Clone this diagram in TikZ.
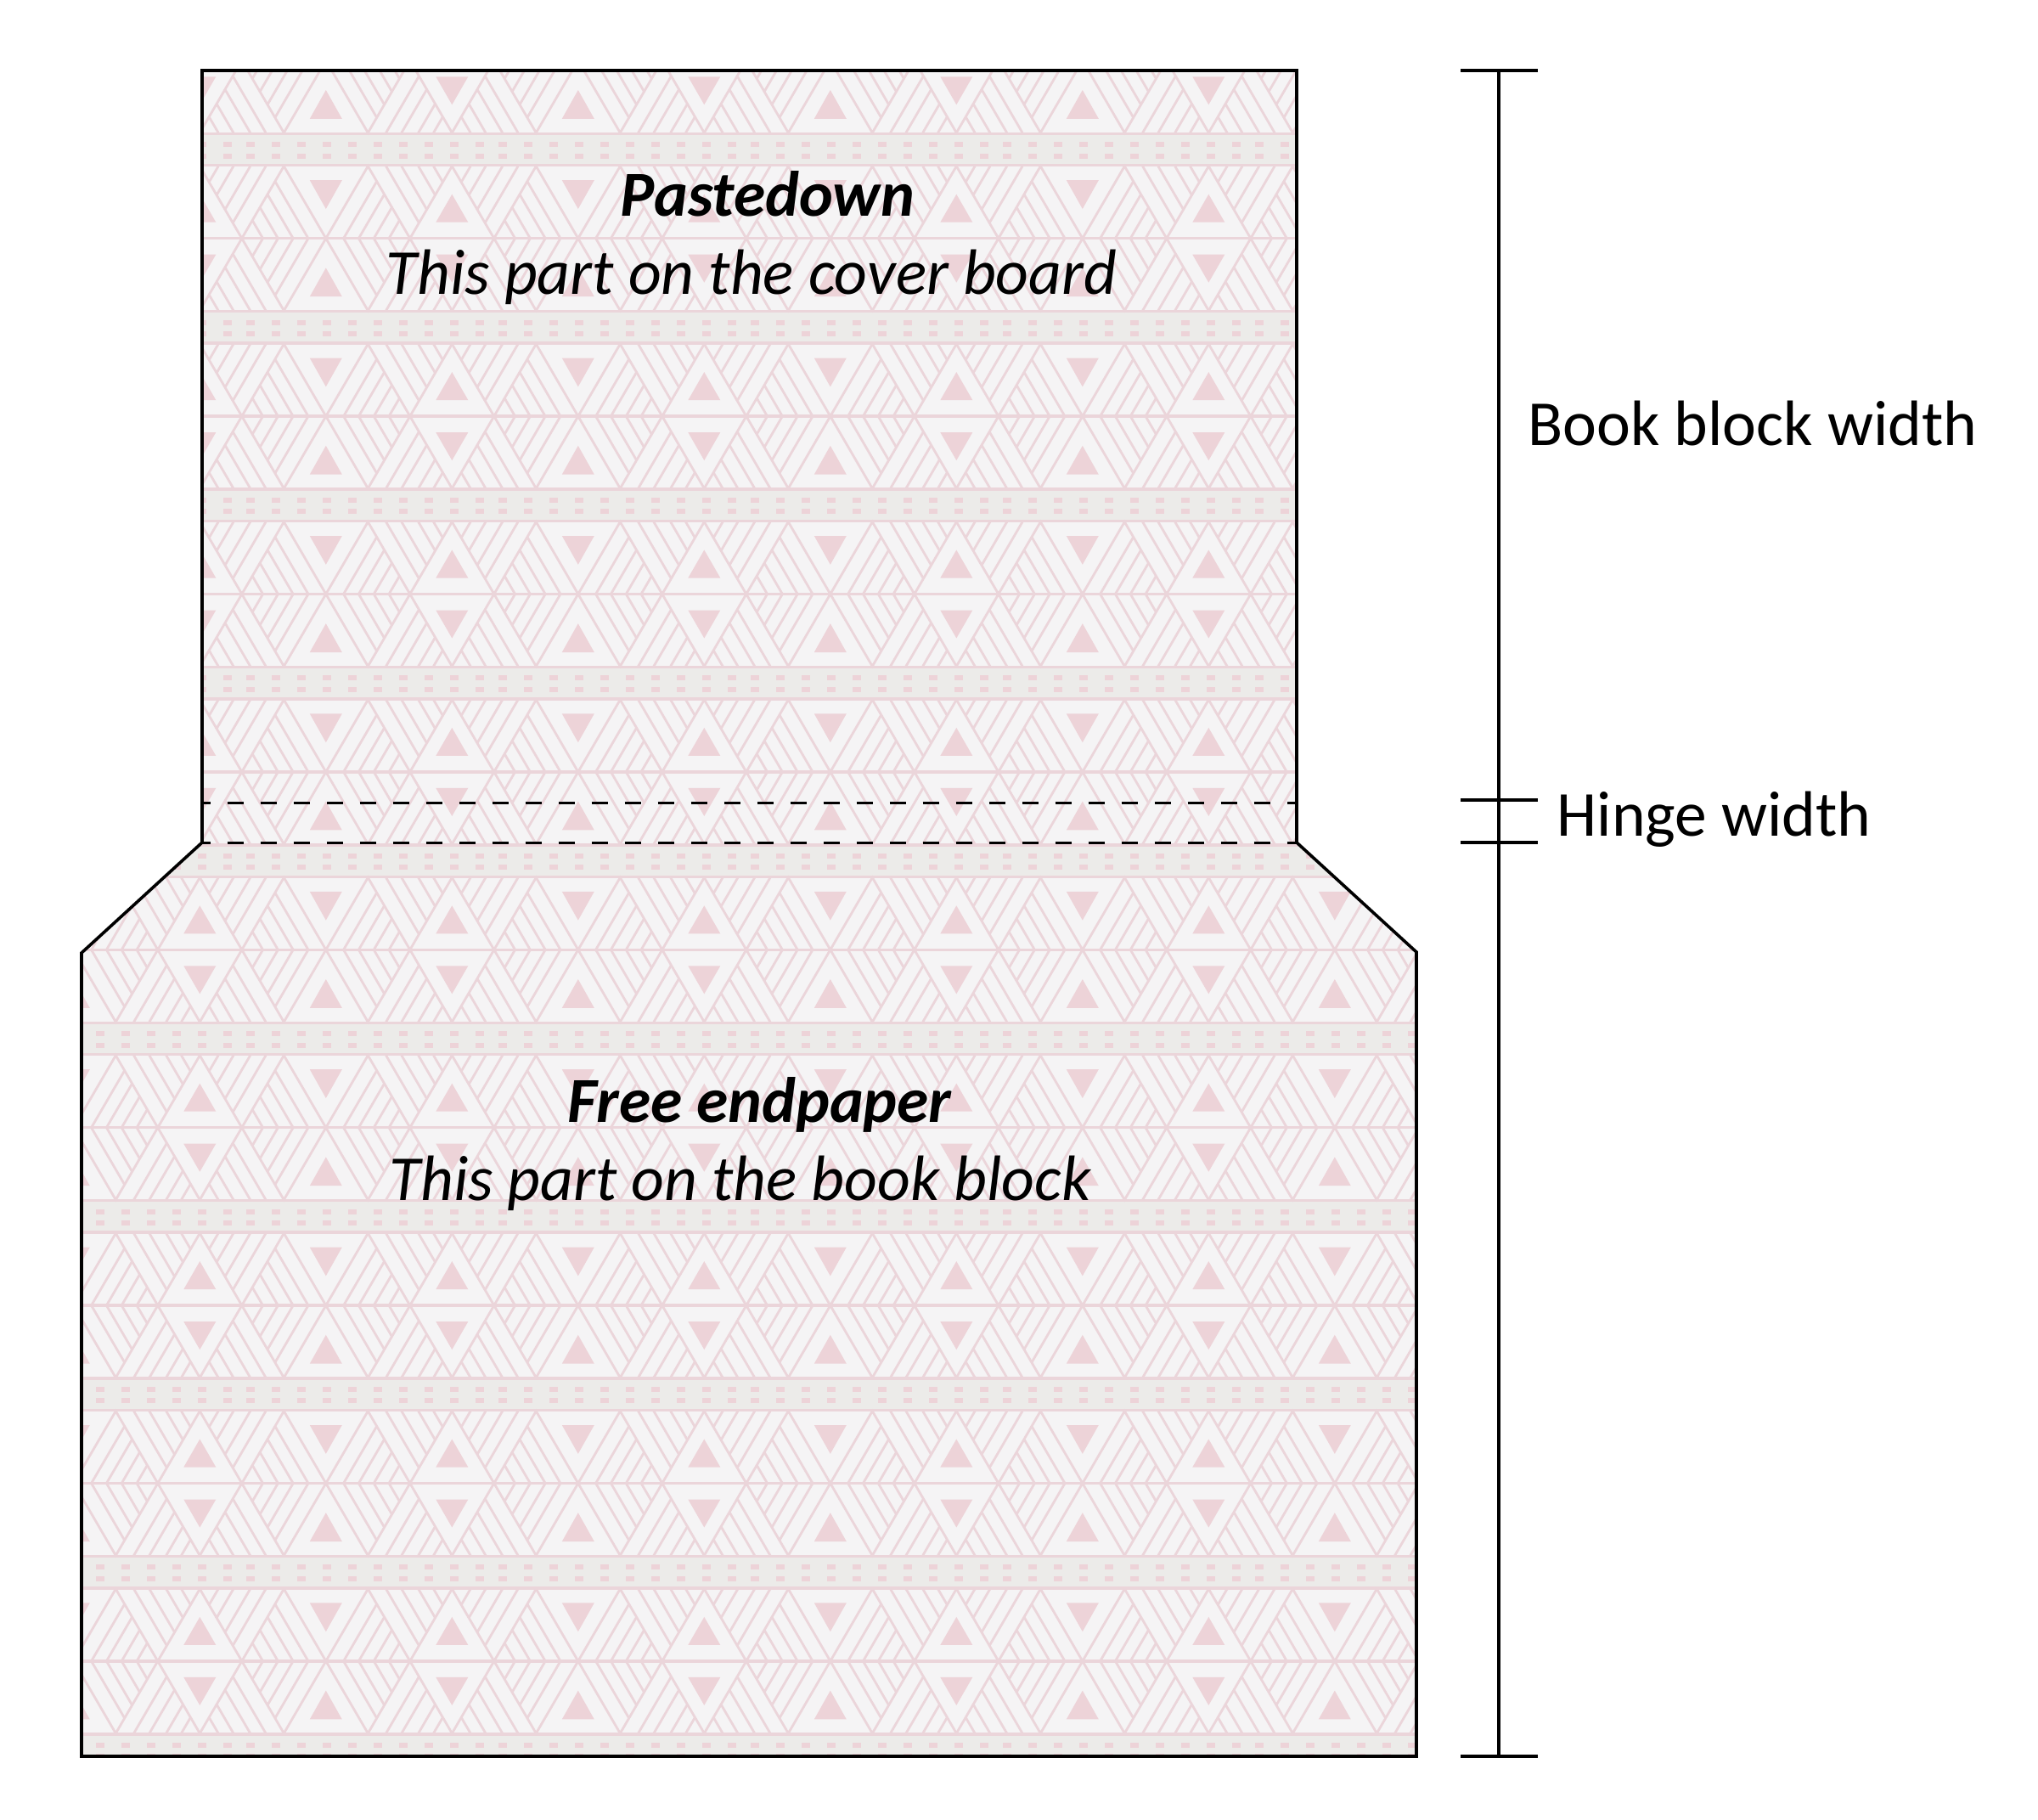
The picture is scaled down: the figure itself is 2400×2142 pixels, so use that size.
\documentclass[tikz,border=0pt]{standalone}
\usepackage{fontspec}
\setmainfont{Carlito}
\definecolor{tilebg}{HTML}{F5F4F5}
\definecolor{tilepink}{HTML}{EBD5DA}
\definecolor{trifill}{HTML}{EDD3D8}
\definecolor{bandgrey}{HTML}{ECEBE9}
\newcommand{\outlinepath}{(238,83) -- (1527,83) -- (1527,992) -- (1668,1121) -- (1668,2068) -- (96,2068) -- (96,1122) -- (238,992) -- cycle}
\tikzset{
  stripe/.style={draw=tilepink,line width=0.28mm},
  rowtile/.pic={
    \fill[trifill] (0,-52) -- (19,-19) -- (-19,-19) -- cycle;
    \fill[trifill] (129.5,-68.5) -- (167.5,-68.5) -- (148.5,-34.7) -- cycle;
    \foreach \m in {1,-1}{
      \draw[stripe] (0,-85) -- (\m*49.5,0) -- (\m*99,-85) -- (\m*148.5,0);
      \foreach \f in {.785,.6,.4,.22}
        \draw[stripe] ({\m*99*\f},-85) -- ({\m*49.5*\f},{-85+85*\f});
      \foreach \g in {.79,.61,.43,.25}
        \draw[stripe] ({\m*(49.5+99*\g)},0) -- ({\m*(49.5+49.5*\g)},{-85*\g});
    }
  },
  bandtile/.pic={
    \foreach \d in {0,30,60,90,120,150,180,206.7,236.7,266.7}{
      \fill[trifill] (\d-5,-8.8) rectangle (\d+5,-2.8);
      \fill[trifill] (\d-5,4.5) rectangle (\d+5,10.5);
    }
  }
}

\begin{document}
\begin{tikzpicture}[x=0.1mm,y=-0.1mm]
\useasboundingbox (0,0) rectangle (2400,2142);

\begin{scope}
    \clip \outlinepath;
    \fill[tilebg] (0,0) rectangle (2400,2142);
    \foreach \j in {-1,...,8}{
        \pgfmathsetmacro{\mid}{280.7+209.4*\j}
        \fill[bandgrey] (96,\mid+86) rectangle (1668,\mid+123.4);
        \draw[draw=tilepink,line width=0.33mm] (96,\mid) -- (1668,\mid);
        \draw[draw=tilepink,line width=0.33mm] (96,\mid+86) -- (1668,\mid+86);
        \draw[draw=tilepink,line width=0.33mm] (96,\mid+123.4) -- (1668,\mid+123.4);
        \foreach \k in {-2,...,4}{
            \pic at ({532.3+297*\k},\mid) {rowtile};
            \pic[yscale=-1] at ({532.3+297*\k},\mid) {rowtile};
            \pic at ({385+297*\k},\mid+104.7) {bandtile};
        }
    }
\end{scope}

\draw[line width=0.36mm] \outlinepath;

\begin{scope}[every path/.style={line width=0.3mm,dash pattern=on 1.95mm off 1.95mm,dash phase=0.95mm}]
    \coordinate (HingeTopL) at (238,945.7);
    \coordinate (HingeTopR) at (1527,945.7);
    \coordinate (HingeBotL) at (238,992);
    \coordinate (HingeBotR) at (1527,992);
    \draw (HingeTopL) -- (HingeTopR);
    \draw (HingeBotL) -- (HingeBotR);
\end{scope}

\coordinate (DimTop) at (1765,83);
\coordinate (DimBottom) at (1765,2068);
\coordinate (TickAL) at (1720,83);
\coordinate (TickAR) at (1811,83);
\coordinate (TickBL) at (1720,942);
\coordinate (TickBR) at (1811,942);
\coordinate (TickCL) at (1720,992);
\coordinate (TickCR) at (1811,992);
\coordinate (TickDL) at (1720,2068);
\coordinate (TickDR) at (1811,2068);

\begin{scope}[every edge/.style={draw=black,line width=0.33mm}]
    \path (DimTop) edge (DimBottom);
    \path (TickAL) edge (TickAR);
    \path (TickBL) edge (TickBR);
    \path (TickCL) edge (TickCR);
    \path (TickDL) edge (TickDR);
\end{scope}

\begin{scope}[every node/.style={inner sep=0pt,anchor=base,font=\fontsize{21.5}{26}\selectfont}]
    \node (Pastedown) at (904,254.5) {\textbf{\textit{Pastedown}}};
    \node (PastedownNote) at (885,346.5) {\textit{This part on the cover board}};
    \node (FreeEndpaper) at (895,1321.5) {\textbf{\textit{Free endpaper}}};
    \node (FreeEndpaperNote) at (872,1413.5) {\textit{This part on the book block}};
    \node[anchor=base west] (BookBlock) at (1799,524.5) {Book block width};
    \node[anchor=base west] (Hinge) at (1833,984) {Hinge width};
\end{scope}
\end{tikzpicture}
\end{document}
